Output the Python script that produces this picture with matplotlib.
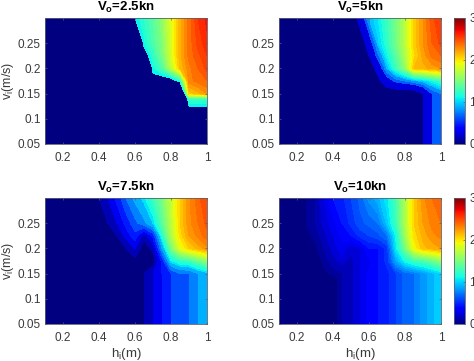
import numpy as np
import matplotlib
matplotlib.use("Agg")
import matplotlib.pyplot as plt

plt.rcParams['font.family'] = ['Liberation Sans', 'DejaVu Sans']
plt.rcParams['mathtext.fontset'] = 'custom'
plt.rcParams['mathtext.rm'] = 'Liberation Sans'
plt.rcParams['mathtext.bf'] = 'Liberation Sans:bold'

# grid
h_i = [0.1, 0.2, 0.3, 0.35, 0.4, 0.45, 0.5, 0.55, 0.6, 0.65, 0.7, 0.75, 0.8, 0.85, 0.9, 0.95, 1.0]
v_i = [0.05, 0.125, 0.14, 0.15, 0.175, 0.2, 0.225, 0.25, 0.3]

# one row per v_i value
power_25 = [
    [0, 0, 0, 0, 0, 0, 0, 0, 0, 0, 0, 0, 0, 0, 0, 0, 0],
    [0, 0, 0, 0, 0, 0, 0, 0, 0, 0, 0, 0, 0, 0, 11, 11, 11],
    [0, 0, 0, 0, 0, 0, 0, 0, 0, 0, 0, 0, 0, 0, 13, 13, 13],
    [0, 0, 0, 0, 0, 0, 0, 0, 0, 0, 0, 0, 0, 0, 21, 22, 23],
    [0, 0, 0, 0, 0, 0, 0, 0, 0, 0, 10.2, 9.3, 9.1, 12, 23.5, 24, 24.5],
    [0, 0, 0, 0, 0, 0, 0, 0, 0, 3, 11.5, 13.5, 17.5, 21.5, 23.5, 24.5, 25.5],
    [0, 0, 0, 0, 0, 0, 0, 0, 0, 9.5, 12.5, 15, 18.5, 22, 24, 25, 26],
    [0, 0, 0, 0, 0, 0, 0, 0, 0, 11.5, 13.5, 15.5, 18.5, 22, 24, 25.5, 26.5],
    [0, 0, 0, 0, 0, 0, 0, 0, 11, 12.5, 14, 16, 19, 22, 24, 26, 27],
]
power_5 = [
    [0, 0, 0, 0, 0, 0, 0, 0, 0, 0, 0, 0, 0, 0, 2.5, 6.5, 8],
    [0, 0, 0, 0, 0, 0, 0, 0, 0, 0, 0, 0, 0, 0, 2.5, 6.5, 8],
    [0, 0, 0, 0, 0, 0, 0, 0, 0, 0, 0, 0, 0, 0, 2.5, 6.5, 8],
    [0, 0, 0, 0, 0, 0, 0, 0, 0, 0, 0, 0, 0, 0, 2.5, 6.5, 8],
    [0, 0, 0, 0, 0, 0, 0, 0, 0, 1.5, 5, 7, 8, 9, 10, 11.5, 13],
    [0, 0, 0, 0, 0, 0, 0, 0, 0, 4, 9.5, 13, 16, 21.5, 22, 22.5, 23],
    [0, 0, 0, 0, 0, 0, 0, 0, 2.5, 7.5, 11.5, 14, 17, 20.5, 22.5, 24, 24.5],
    [0, 0, 0, 0, 0, 0, 0, 0, 4.5, 10, 12.5, 15, 17.5, 21, 23, 24.5, 25.5],
    [0, 0, 0, 0, 0, 0, 0, 4, 9.5, 11, 13, 15, 17.5, 21, 23, 25, 26],
]
power_75 = [
    [0, 0, 0, 0, 0, 0, 0, 0, 0, 1.5, 3, 4.5, 6, 7.5, 7.5, 9, 10],
    [0, 0, 0, 0, 0, 0, 0, 0, 0, 1.5, 3, 4.5, 6, 7.5, 7.5, 9, 10],
    [0, 0, 0, 0, 0, 0, 0, 0, 0, 1.5, 3, 4.5, 6, 7.5, 7.5, 9, 10],
    [0, 0, 0, 0, 0, 0, 0, 0, 0, 1.5, 3, 4.5, 6, 7.5, 7.5, 9, 10],
    [0, 0, 0, 0, 0, 0, 0, 0, 1, 0, 0.5, 5, 11, 12.5, 13, 14.5, 16],
    [0, 0, 0, 0, 0, 0, 0, 1.5, 3, 0.5, 2, 9, 15, 19, 21, 22, 23],
    [0, 0, 0, 0, 0, 0, 1.5, 3.5, 5.5, 2, 5, 12, 17, 20.5, 22.5, 23.5, 24.5],
    [0, 0, 0, 0, 0, 1.5, 3, 5, 7, 8.5, 10.5, 14, 17.5, 21, 23, 24, 25],
    [0, 0, 0, 0, 1.5, 3, 5, 7.5, 9.5, 11, 13, 15, 18, 21, 23, 24.5, 25.5],
]
power_10 = [
    [0, 0, 0, 0, 0, 1.5, 2, 3, 4, 4.5, 5, 6, 7, 7.5, 8.5, 9.5, 10.5],
    [0, 0, 0, 0, 0, 1.5, 2, 3, 4, 4.5, 5, 6, 7, 7.5, 8.5, 9.5, 10.5],
    [0, 0, 0, 0, 0, 1.5, 2, 3, 4, 4.5, 5, 6, 7, 7.5, 8.5, 9.5, 10.5],
    [0, 0, 0, 0.5, 1, 1.5, 2, 3, 4, 4.5, 5, 6, 7, 7.5, 8.5, 9.5, 10.5],
    [0, 0, 0, 1, 2, 2.5, 2, 3, 3.5, 4.5, 5.5, 9, 11.5, 13, 13.5, 14.5, 16],
    [0, 0, 0.5, 1.5, 2.5, 3.5, 2.5, 3, 4.5, 4.5, 5.5, 11, 15, 19.5, 21.5, 22, 22.5],
    [0, 0, 1, 2, 3, 4, 4.5, 5.5, 6, 6.5, 7.5, 11.5, 16.5, 20.5, 22, 23, 23.5],
    [0, 0, 1.5, 2.5, 3.5, 4.5, 5.5, 6.5, 7, 7.5, 10, 13, 17, 21, 22.5, 23.5, 24],
    [0, 0, 1.5, 3, 4.5, 5, 6, 7, 8.5, 9.5, 11, 13.5, 17, 21, 23, 24, 24.5],
]

panels = [power_25, power_5, power_75, power_10]
titles = ['2.5', '5', '7.5', '10']

# contour levels, the low end differs per panel
low_levels = [[0], [0, 2.5, 6.5, 8], [0, 1.5, 3, 4.5, 6, 7.5, 9], [0]]
first_step = [11, 9.5, 10.5, 0.75]

h_ticks = [0.2, 0.4, 0.6, 0.8, 1]
h_labels = ['0.2', '0.4', '0.6', '0.8', '1']
v_ticks = [0.05, 0.1, 0.15, 0.2, 0.25]
v_labels = ['0.05', '0.1', '0.15', '0.2', '0.25']
cbar_ticks = [0, 10, 20, 30]

W, H = 474, 361
positions = [(45, 18), (279, 18), (45, 198), (279, 198)]
ax_w, ax_h = 162, 126
text_col = '#3a3a3a'
edge_col = '#5a6070'

fig = plt.figure(figsize=(W / 100, H / 100), dpi=100)
jet = plt.get_cmap('jet')

for i in range(4):
    x0, y0 = positions[i]
    ax = fig.add_axes([x0 / W, 1 - (y0 + ax_h) / H, ax_w / W, ax_h / H])
    levels = low_levels[i] + list(np.arange(first_step[i], 30.1, 0.75))
    colors = [jet(l / 30) for l in levels[:-1]]
    ax.contourf(h_i, v_i, np.array(panels[i]), levels=levels, colors=colors, antialiased=False)
    ax.set_xlim(0.1, 1)
    ax.set_ylim(0.05, 0.3)
    ax.set_xticks(h_ticks)
    ax.set_xticklabels(h_labels)
    ax.set_yticks(v_ticks)
    ax.set_yticklabels(v_labels)
    ax.tick_params(direction='in', length=1.5, width=0.5, labelsize=8.5, colors=edge_col,
                   labelcolor=text_col, top=True, right=True)
    ax.tick_params(axis='x', pad=6)
    ax.tick_params(axis='y', pad=3)
    for s in ax.spines.values():
        s.set_linewidth(0.6)
        s.set_color(edge_col)
    ax.set_title(r'$\mathbf{V_o}$' + '=' + titles[i] + 'kn', fontsize=9.5, fontweight='bold', pad=5)
    if i % 2 == 0:
        ax.set_ylabel(r'v$_\mathrm{i}$(m/s)', fontsize=9, color=text_col, labelpad=1)
    if i >= 2:
        ax.set_xlabel(r'h$_\mathrm{i}$(m)', fontsize=9.5, color=text_col, labelpad=1)

    if i % 2 == 1:
        cax = fig.add_axes([454 / W, 1 - (y0 + ax_h) / H, 11 / W, ax_h / H])
        sm = plt.cm.ScalarMappable(norm=plt.Normalize(0, 30), cmap=jet)
        cb = fig.colorbar(sm, cax=cax)
        cb.set_ticks(cbar_ticks)
        cb.ax.tick_params(direction='in', length=1.5, width=0.5, labelsize=8.5, colors=edge_col,
                          labelcolor=text_col, pad=3)
        cb.outline.set_linewidth(0.6)
        cb.outline.set_edgecolor(edge_col)

fig.savefig('out.png', dpi=100)
